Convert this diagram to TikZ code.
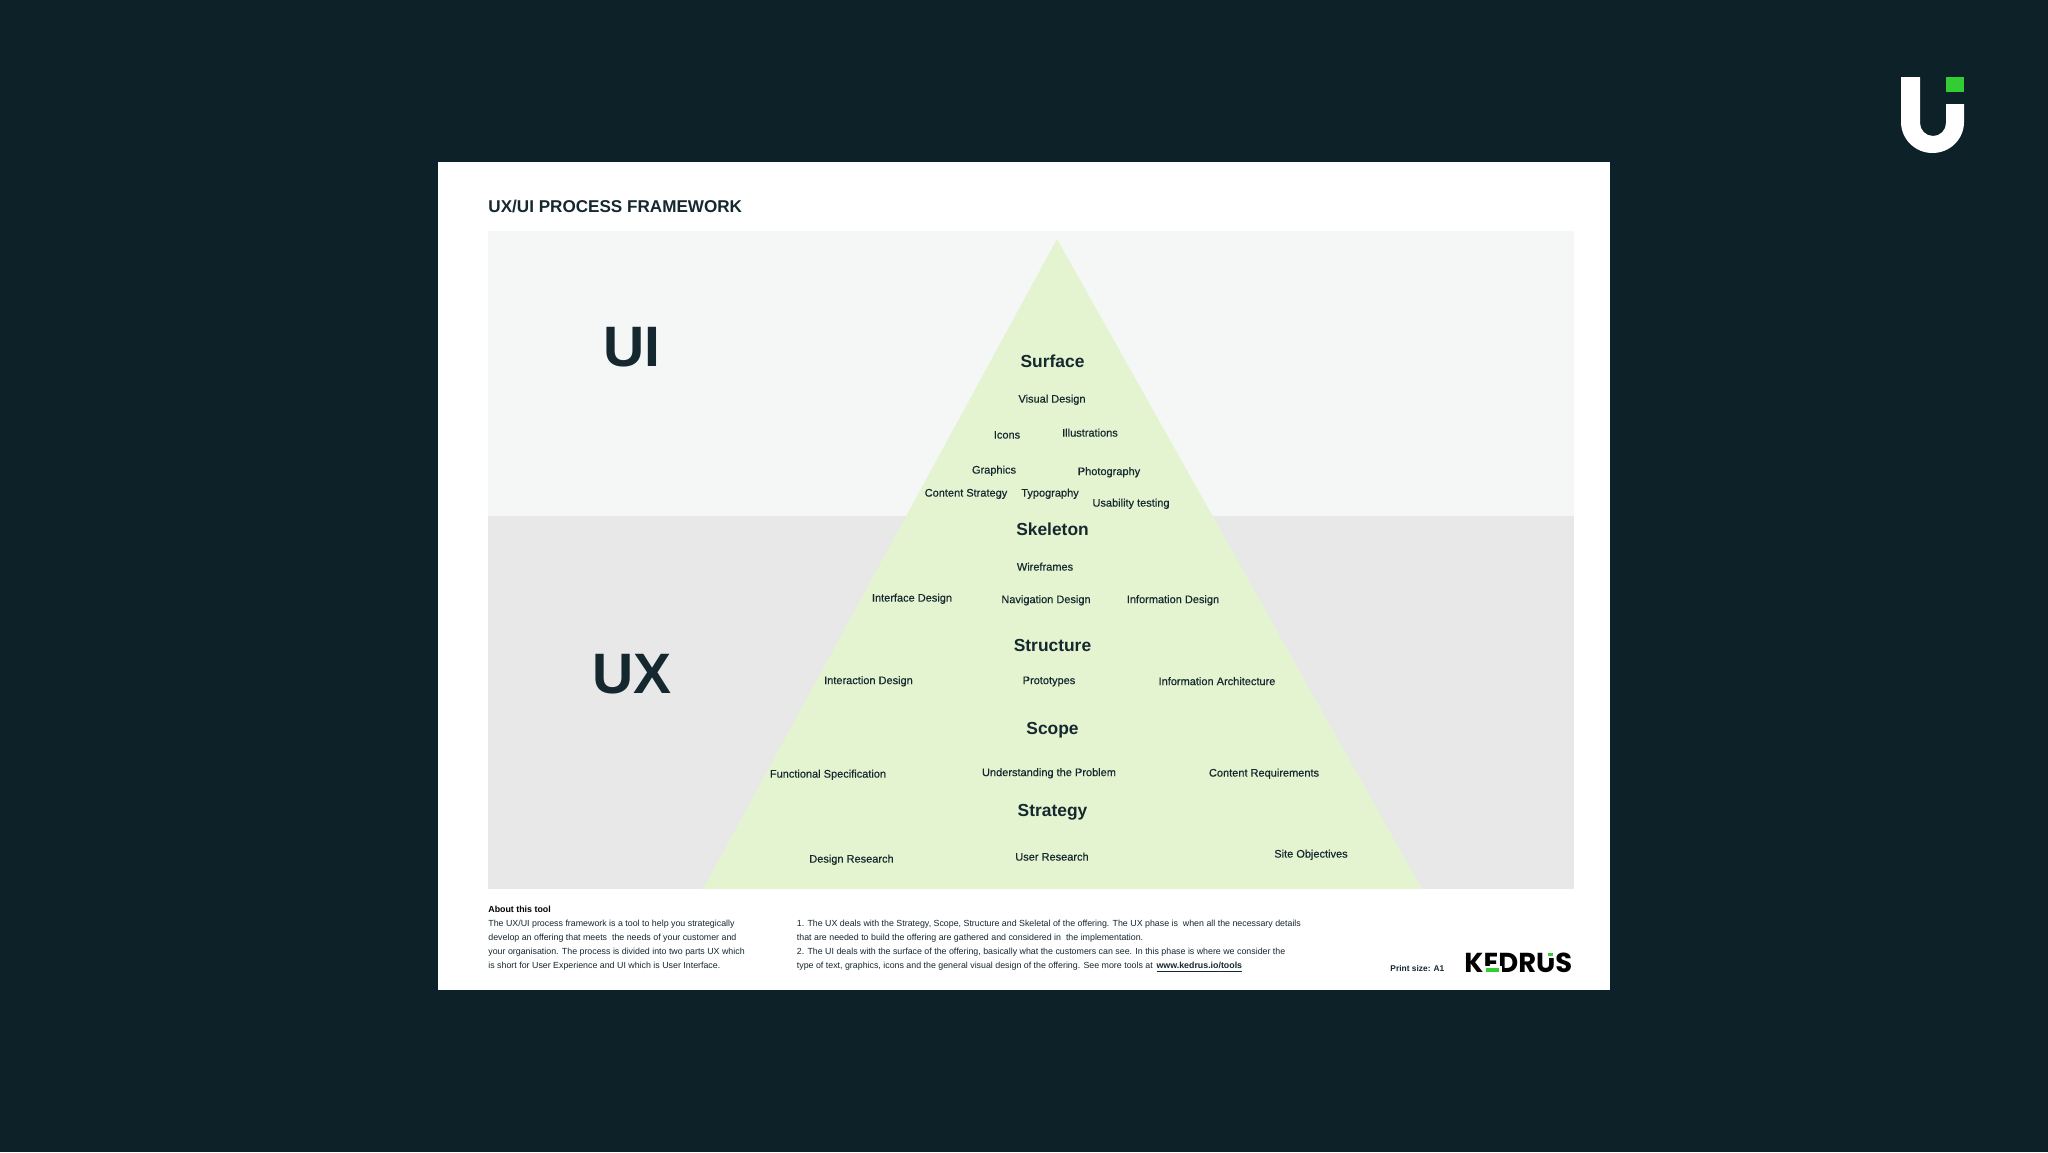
\documentclass[tikz,border=0pt]{standalone}
\usepackage{fontspec}
\setmainfont{Liberation Sans}
\newfontfamily\medf[FakeBold=0.4]{Liberation Sans}
\newfontfamily\logof{Poppins}
\definecolor{bgc}{HTML}{0D2129}
\definecolor{inkc}{HTML}{15282F}
\definecolor{grn}{HTML}{33CC33}
\definecolor{topc}{HTML}{F5F7F6}
\definecolor{lowc}{HTML}{E8E8E8}
\definecolor{trc}{HTML}{E4F4D0}
\tikzset{
 x=0.5pt,y=-0.5pt,
 item/.style={inner sep=0pt,text=inkc,text height=3.6pt,text depth=0pt,font=\medf\fontsize{5.5}{7}\selectfont},
 level/.style={inner sep=0pt,text=inkc,text height=6.2pt,text depth=0pt,font=\bfseries\fontsize{8.7}{10}\selectfont},
 big/.style={inner sep=0pt,text=inkc,font=\bfseries\fontsize{28.5}{32}\selectfont},
 foot/.style={inner sep=0pt,anchor=west,text=inkc,text height=3.2pt,text depth=0pt,font=\fontsize{4.42}{6}\selectfont},
}
\begin{document}
\begin{tikzpicture}
\useasboundingbox (0,0) rectangle (2048,1152);
\fill[bgc] (0,0) rectangle (2048,1152);
% logo mark
\fill[white] (1901,77) -- (1920,77) -- (1920,123) .. controls (1920,130.2) and (1925.8,136) .. (1933,136) .. controls (1940.2,136) and (1946,130.2) .. (1946,123) -- (1946,104) -- (1964,104) -- (1964,122) .. controls (1964,139.1) and (1950,153) .. (1932.5,153) .. controls (1915,153) and (1901,139.1) .. (1901,122) -- cycle;
\fill[grn] (1946,77) rectangle (1964,92);
% sheet
\fill[white] (438,162) rectangle (1610,990);
\fill[topc] (488,231) rectangle (1574,516);
\fill[lowc] (488,516) rectangle (1574,889);
\fill[trc] (1057,239) -- (1422,889) -- (703,889) -- cycle;
\node[inner sep=0pt,anchor=west,text=inkc,font=\bfseries\fontsize{8.55}{11}\selectfont] (title) at (488,206) {UX/UI PROCESS FRAMEWORK};
\node[big] (ui) at (632,347) {UI};
\node[big] (ux) at (632,674) {UX};
\node[level] (surface) at (1052.5,361) {Surface};
\node[level] (skeleton) at (1052.5,529.5) {Skeleton};
\node[level] (structure) at (1052.5,645) {Structure};
\node[level] (scope) at (1052.5,728) {Scope};
\node[level] (strategy) at (1052.5,810) {Strategy};
\node[item] (n1) at (1052,399) {Visual Design};
\node[item] (n2) at (1007,435) {Icons};
\node[item] (n3) at (1090,433) {Illustrations};
\node[item] (n4) at (994,470) {Graphics};
\node[item] (n5) at (1109,471.5) {Photography};
\node[item] (n6) at (966,493) {Content Strategy};
\node[item] (n7) at (1050,493) {Typography};
\node[item] (n8) at (1131,503) {Usability testing};
\node[item] (n9) at (1045,567) {Wireframes};
\node[item] (n10) at (912,598) {Interface Design};
\node[item] (n11) at (1046,599.5) {Navigation Design};
\node[item] (n12) at (1173,599.5) {Information Design};
\node[item] (n13) at (868.5,680.5) {Interaction Design};
\node[item] (n14) at (1049,680.5) {Prototypes};
\node[item] (n15) at (1217,681.5) {Information Architecture};
\node[item] (n16) at (828,774) {Functional Specification};
\node[item] (n17) at (1049,772.5) {Understanding the Problem};
\node[item] (n18) at (1264,773) {Content Requirements};
\node[item] (n19) at (851.5,859) {Design Research};
\node[item] (n20) at (1052,857) {User Research};
\node[item] (n21) at (1311,854) {Site Objectives};
% footer
\node[foot,text=black,font=\bfseries\fontsize{4.42}{6}\selectfont] (about) at (488,909) {About this tool};
\node[foot] (a1) at (488,923.5) {The UX/UI process framework is a tool to help you strategically};
\node[foot] (a2) at (488,937.5) {develop an offering that meets\ \ the needs of your customer and};
\node[foot] (a3) at (488,951.5) {your organisation. The process is divided into two parts UX which};
\node[foot] (a4) at (488,965.5) {is short for User Experience and UI which is User Interface.};
\node[foot] (b1) at (796.5,923.5) {1. The UX deals with the Strategy, Scope, Structure and Skeletal of the offering. The UX phase is\ \ when all the necessary details};
\node[foot] (b2) at (796.5,937.5) {that are needed to build the offering are gathered and considered in\ \ the implementation.};
\node[foot] (b3) at (796.5,951.5) {2. The UI deals with the surface of the offering, basically what the customers can see. In this phase is where we consider the};
\node[foot] (b4) at (796.5,965.5) {type of text, graphics, icons and the general visual design of the offering. See more tools at \hspace{0.6pt}{\bfseries\underline{www.kedrus.io/tools}}};
\node[foot,font=\bfseries\fontsize{4.2}{6}\selectfont] (print) at (1390,968) {Print size: A1};
% wordmark
\node[inner sep=0pt,anchor=base west,text=black,font=\logof\bfseries\fontsize{13.7}{14}\selectfont] (kedrus) at (1464,972) {KEDRUS};
\fill[white] (1485,965.5) rectangle (1502,973);
\fill[grn] (1486,967.5) rectangle (1499,972);
\fill[white] (1546,951) rectangle (1556,958);
\fill[grn] (1548,953) rectangle (1553,956);
\end{tikzpicture}
\end{document}
